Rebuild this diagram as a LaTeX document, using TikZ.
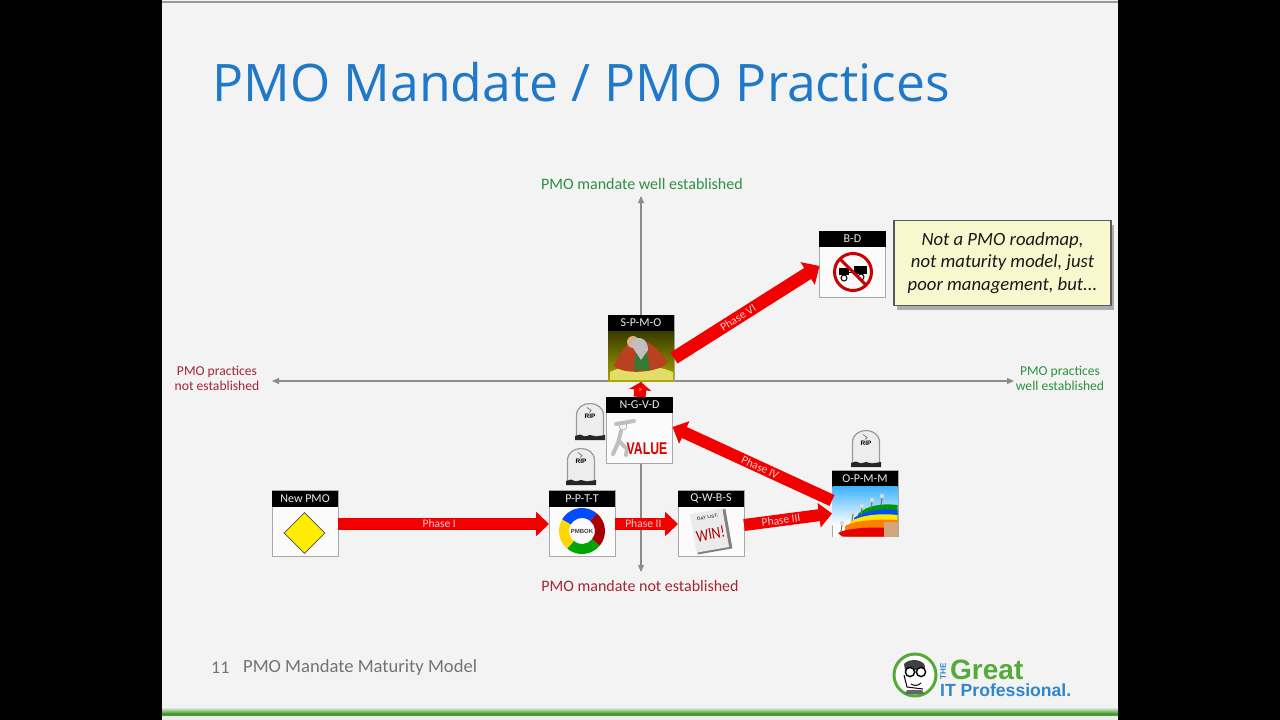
\documentclass[tikz,border=0pt]{standalone}
\usepackage{fontspec}
\setmainfont{Open Sans}
\newfontfamily\calib{Carlito}
\newfontfamily\logofont{Liberation Sans}
\usetikzlibrary{arrows.meta,shapes.geometric,calc,shadows}
\definecolor{slidebg}{HTML}{F3F3F3}
\definecolor{titleblue}{HTML}{1F78C8}
\definecolor{okgreen}{HTML}{2F8F3F}
\definecolor{badred}{HTML}{A52535}
\definecolor{axisgray}{HTML}{8C8C8C}
\definecolor{boxedge}{HTML}{A8A8A8}
\definecolor{callfill}{HTML}{F8F8CF}
\definecolor{logoblue}{HTML}{2F86C8}
\definecolor{logogreen}{HTML}{55AA3A}
\tikzset{
  x=1pt,y=-1pt,
  pbox/.style={draw=boxedge,line width=0.9pt,fill=white!97!gray,minimum width=66pt,minimum height=66pt,inner sep=0pt,outer sep=0pt},
  phead/.style={fill=black,text=white!85!gray,minimum width=66.5pt,minimum height=16pt,inner sep=0pt,outer sep=0pt,font=\calib\fontsize{12}{13}\selectfont},
  axisline/.style={draw=axisgray,line width=1.2pt,{Triangle[length=7pt,width=6pt]}-{Triangle[length=7pt,width=6pt]}},
  phasearrow/.style={draw=red!95!black,line width=12pt,-{Triangle[length=13pt,width=24pt]}},
  phaselabel/.style={text=red!20!white,font=\calib\fontsize{11.5}{12}\selectfont,inner sep=0pt},
  axislabel/.style={font=\calib\fontsize{16}{17}\selectfont,align=center,inner sep=0pt},
  sidelabel/.style={font=\calib\fontsize{13.6}{15.5}\selectfont,align=center,inner sep=0pt},
}
\newcommand\pmobox[4]{%
  \node[pbox] (#1) at (#2,#3) {};
  \node[phead,anchor=north] (#1-h) at (#1.north) {#4};
}
\newcommand\tomb[2]{%
  \begin{scope}[shift={(#1,#2)}]
    \draw[black!40,fill=black!7,line width=1.2pt] (-13.5,15) -- (-13.5,-6) .. controls (-13.5,-22) and (13.5,-22) .. (13.5,-6) -- (13.5,15) -- cycle;
    \fill[black!85] (-15,14.5) -- (-10,13) -- (-5,15) -- (0,13.5) -- (6,15) -- (15,13.5) -- (15,18.5) -- (-15,18.5) -- cycle;
    \draw[black!55,line width=0.7pt] (-3,-14) -- (1,-11) -- (-1,-9);
    \node[font=\logofont\bfseries\fontsize{6.5}{6}\selectfont,inner sep=0pt] at (0,-5) {RIP};
  \end{scope}
}
\begin{document}
\begin{tikzpicture}
\useasboundingbox (0,0) rectangle (1280,720);
% slide
\fill[black] (0,0) rectangle (1280,720);
\fill[slidebg] (162,0) rectangle (1118,720);
\fill[black!40] (162,1) rectangle (1118,2.5);
\shade[top color=slidebg,bottom color=logogreen] (162,707) rectangle (1118,713);
\fill[logogreen!90!black] (162,713) rectangle (1118,716);
\fill[white!85!gray] (162,716) rectangle (1118,720);
% title
\node[anchor=west,text=titleblue,font=\fontsize{51.7}{58}\selectfont,inner sep=0pt] (title) at (212,82) {PMO Mandate / PMO Practices};
% axes
\coordinate (axL) at (272,381);
\coordinate (axR) at (1014,381);
\coordinate (axT) at (641,196);
\coordinate (axB) at (641,572);
\draw[axisline] (axL) -- (axR);
\draw[axisline] (axT) -- (axB);
% axis labels
\node[axislabel,text=okgreen] (lblT) at (642,184) {PMO mandate well established};
\node[axislabel,text=badred] (lblB) at (640,586) {PMO mandate not established};
\node[sidelabel,text=badred] (lblL) at (217,378.5) {PMO practices\\not established};
\node[sidelabel,text=okgreen] (lblR) at (1060,378.5) {PMO practices\\well established};
% boxes
\pmobox{new}{305}{523.5}{New PMO}
\pmobox{ppt}{582}{523.5}{P-P-T-T}
\pmobox{qwb}{711}{523.5}{Q-W-B-S}
\pmobox{opm}{865}{503.5}{O-P-M-M}
\pmobox{ngv}{639.5}{430}{N-G-V-D}
\pmobox{spm}{641}{348}{S-P-M-O}
\pmobox{bdd}{852.5}{264}{B-D}
% New PMO picture
\node[diamond,draw=black!70,fill=yellow!95!orange,line width=0.8pt,minimum width=41pt,minimum height=41pt,inner sep=0pt] (dia) at (304.5,533) {};
% PPTT picture
\begin{scope}[shift={(582,531)}]
  \foreach \a/\b/\c in {-150/-50/blue!70!cyan,-50/40/red!65!black,40/130/green!65!black,130/210/yellow!75!orange}{
    \fill[\c] (\a:23) arc[start angle=\a,end angle=\b,radius=23] -- (\b:13) arc[start angle=\b,end angle=\a,radius=13] -- cycle;
  }
  \node[font=\logofont\bfseries\fontsize{6}{6}\selectfont,text=black!75,inner sep=0pt] at (0,0) {PMBOK};
\end{scope}
% QWBS picture
\begin{scope}[shift={(710,531)},rotate=10]
  \fill[black!50] (-16,-19) rectangle (19,21);
  \fill[black!8] (-17,-20) rectangle (16,19);
  \node[rotate=10,font=\logofont\bfseries\fontsize{4.5}{5}\selectfont,text=black!70,inner sep=0pt] at (0,-14) {DAY LIST:};
  \node[rotate=10,xscale=0.8,font=\calib\fontsize{17}{17}\selectfont,text=red!70!black,inner sep=0pt] at (0,3) {WIN!};
\end{scope}
% OPMM picture
\begin{scope}
  \shade[top color=blue!40!cyan!75,bottom color=white] (832.5,486.5) rectangle (897.5,525);
  \fill[white] (832.5,525) rectangle (897.5,536.5);
  \fill[green!60!black] (858,514) .. controls (866,506) and (880,503) .. (897.5,505) -- (897.5,536.5) -- (858,536.5) -- cycle;
  \fill[blue!70!cyan] (854,518) .. controls (864,511) and (880,508) .. (897.5,510) -- (897.5,536.5) -- (854,536.5) -- cycle;
  \fill[yellow!90!orange] (850,522) .. controls (860,515) and (880,513) .. (897.5,515) -- (897.5,536.5) -- (850,536.5) -- cycle;
  \fill[orange] (845,526) .. controls (855,520) and (880,519) .. (897.5,520) -- (897.5,536.5) -- (845,536.5) -- cycle;
  \fill[red!90!black] (838,533) .. controls (848,527) and (880,527) .. (897.5,528) -- (897.5,536.5) -- (842,536.5) -- cycle;
  \fill[brown!70!white] (884,522) rectangle (897.5,536.5);
  \foreach \x/\y in {842/523,853/512,862/506,872/500,882/496}{
    \fill[white!85!black] (\x,\y) circle[radius=2.2];
    \draw[black!55,line width=1.1pt] (\x,\y+2) -- (\x-1,\y+9);
  }
\end{scope}
% NGVD picture
\begin{scope}
  \draw[black!35,fill=black!5,line width=0.6pt] (623,426) circle[radius=4];
  \draw[black!25,line width=4pt,line cap=round] (616,424) -- (634,421);
  \draw[black!25,line width=4pt,line cap=round] (621,431) -- (618,443) -- (613,454);
  \draw[black!25,line width=4pt,line cap=round] (619,441) -- (627,449) -- (626,455);
  \node[anchor=center,font=\logofont\bfseries\fontsize{17}{17}\selectfont,text=red!85!black,inner sep=0pt,xscale=0.72] (val) at (647,449) {VALUE};
\end{scope}
% SPMO picture
\begin{scope}
  \shade[top color=black!55!olive,bottom color=olive!70!yellow] (608,331) rectangle (674,381);
  \fill[white!65!olive!70!yellow] (610,372) .. controls (625,364) and (655,364) .. (673,372) -- (673,380) -- (610,380) -- cycle;
  \fill[brown!60!red!85!black] (614,366) .. controls (622,345) and (632,342) .. (640,340) .. controls (652,342) and (660,352) .. (668,362) .. controls (662,372) and (625,376) .. (614,366) -- cycle;
  \fill[green!35!black!80] (636,352) -- (647,352) -- (650,370) -- (634,370) -- cycle;
  \fill[brown!60!white] (633,342) circle[radius=6];
  \fill[black!25!white] (631,345) .. controls (633,335) and (648,335) .. (648,350) -- (641,360) -- cycle;
\end{scope}
% BD picture
\begin{scope}[shift={(853,272)}]
  \fill[black] (-14,-4) rectangle (-4,3);
  \fill[black] (1,-6) rectangle (14,2);
  \draw[black,line width=1pt] (-4,0) -- (1,0);
  \draw[black,line width=1pt] (-9,6) circle[radius=3] (8,5) circle[radius=3];
  \draw[red!80!black,line width=3pt] (0,0) circle[radius=18.5];
  \draw[red!80!black,line width=3pt] (-13,-13) -- (13,13);
\end{scope}
% tombstones
\tomb{590}{421.5}
\tomb{581}{466.5}
\tomb{866}{448.5}
% phase arrows
\draw[phasearrow] (new.east |- 0,524) -- node[phaselabel,pos=0.48] {Phase I} (ppt.west |- 0,524);
\draw[phasearrow] (ppt.east |- 0,524) -- node[phaselabel,pos=0.45] {Phase II} (qwb.west |- 0,524);
\draw[phasearrow] ([yshift=-1.5pt]qwb.east) -- node[phaselabel,sloped,pos=0.42] {Phase III} ([yshift=-10pt]opm.west);
\draw[phasearrow] ([yshift=3pt]opm.west) -- node[phaselabel,sloped,pos=0.45] {Phase IV} ([yshift=3pt]ngv.east);
\draw[phasearrow,-{Triangle[length=8pt,width=22pt]}] (ngv-h.north) -- node[phaselabel,font=\calib\fontsize{8}{8}\selectfont,yshift=-1pt] {>} ([yshift=-1pt]spm.south);
\draw[phasearrow,line width=13pt,-{Triangle[length=14pt,width=26pt]}] ([yshift=-10pt]spm.east) -- node[phaselabel,sloped,pos=0.44] {Phase VI} ([yshift=-2pt]bdd.west);
% callout
\node[draw=black!65,line width=1.2pt,fill=callfill,minimum width=217pt,minimum height=85pt,inner sep=0pt,align=center,
  font=\calib\itshape\fontsize{18.7}{22.5}\selectfont,text=black!90,
  drop shadow={shadow xshift=3pt,shadow yshift=-4pt,fill=black!60}] (call) at (1002.5,263) {Not a PMO roadmap,\\not maturity model, just\\poor management, but...};
% footer
\node[anchor=west,text=black!55,font=\calib\fontsize{18}{20}\selectfont,inner sep=0pt] (num) at (211,668) {11};
\node[anchor=west,text=black!55,font=\calib\fontsize{18.6}{20}\selectfont,inner sep=0pt] (foot) at (243,668) {PMO Mandate Maturity Model};
% logo
\draw[logogreen,line width=3pt,fill=white] (915,675) circle[radius=21];
\begin{scope}[shift={(915,675)}]
  \fill[black!75] (-11,-11) .. controls (-6,-17) and (8,-16) .. (10,-9) -- (9,-5) -- (-10,-5) -- cycle;
  \draw[black,line width=1.4pt,fill=white] (-5,-3) circle[radius=4.6] (6,-3) circle[radius=4.6];
  \draw[black,line width=1pt] (-4,9) .. controls (-1,11) and (3,11) .. (6,8);
  \draw[black,line width=1pt] (-11,0) -- (-8,12) -- (8,14);
  \fill[black!60] (-8,15) -- (7,15) -- (9,19) -- (-10,19) -- cycle;
\end{scope}
\node[rotate=90,text=logoblue,font=\logofont\bfseries\fontsize{8}{8}\selectfont,inner sep=0pt] (lthe) at (943,671) {THE};
\node[anchor=west,text=logogreen,font=\logofont\bfseries\fontsize{28}{28}\selectfont,inner sep=0pt] (lgreat) at (950,670) {Great};
\node[anchor=west,text=logoblue,font=\logofont\bfseries\fontsize{17.6}{17}\selectfont,inner sep=0pt] (lit) at (940,690) {IT Professional.};
\end{tikzpicture}
\end{document}
